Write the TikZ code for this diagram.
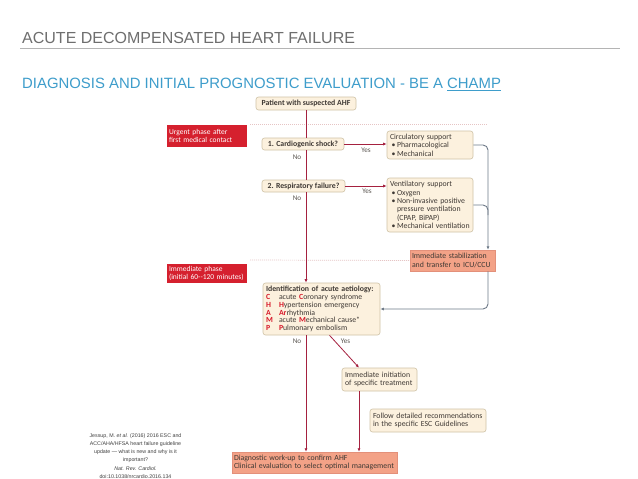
\documentclass[tikz,border=0pt]{standalone}
\usepackage{fontspec}
\setmainfont{Liberation Sans}
\newfontfamily\boxfont{Carlito}
\usetikzlibrary{arrows.meta,calc}
\definecolor{titlegray}{HTML}{6E6E6E}
\definecolor{rulegray}{HTML}{B4B4B4}
\definecolor{subblue}{HTML}{3E9DCB}
\definecolor{boxfill}{HTML}{FCF1DE}
\definecolor{boxline}{HTML}{CFC2A6}
\definecolor{boxtext}{HTML}{3F3934}
\definecolor{linered}{HTML}{A5213F}
\definecolor{phasered}{HTML}{D5202E}
\definecolor{salmonfill}{HTML}{F3A287}
\definecolor{salmonline}{HTML}{E3907A}
\definecolor{conngray}{HTML}{6E7A88}
\definecolor{dotpink}{HTML}{E6C4C4}
\definecolor{champred}{HTML}{D7192A}
\newcommand\champ[1]{\textcolor{champred}{\bfseries #1}}
\newcommand\bul{\hspace*{1.5pt}\makebox[5.5pt][l]{\textbullet}}
\newcommand\cont{\hspace*{7pt}}
\newcommand\cl[1]{\makebox[13pt][l]{\champ{#1}}}
\hyphenpenalty=10000
\exhyphenpenalty=10000
\begin{document}
\begin{tikzpicture}[x=1pt,y=-1pt,
  bfont/.style={font=\boxfont\fontsize{7.8}{8.4}\selectfont},
  box/.style={bfont, draw=boxline, fill=boxfill, rounded corners=2.5pt, line width=0.6pt,
    inner xsep=3pt, inner ysep=0pt, text=boxtext, align=left},
  qbox/.style={box, align=center, font=\boxfont\bfseries\fontsize{7.8}{8.4}\selectfont},
  phase/.style={fill=phasered, text=white, inner xsep=2pt, inner ysep=0pt, align=left,
    font=\boxfont\fontsize{7.5}{8}\selectfont},
  salmon/.style={bfont, fill=salmonfill, draw=salmonline, line width=0.5pt, inner xsep=2pt,
    inner ysep=0pt, text=boxtext, align=left},
  redline/.style={draw=linered, line width=0.8pt},
  redarrow/.style={redline, -{Latex[length=3.5pt,width=3pt]}},
  grayline/.style={draw=conngray, line width=0.9pt, rounded corners=5pt},
  grayarrow/.style={grayline, -{Latex[length=3.5pt,width=3pt]}},
  lbl/.style={font=\boxfont\fontsize{7.2}{8}\selectfont, text=boxtext!85, inner sep=0pt},
  dotline/.style={draw=dotpink, line width=0.7pt, dash pattern=on 1pt off 1pt}
]
\useasboundingbox[fill=white] (0,0) rectangle (638,479);

% header
\node[anchor=base west, inner sep=0pt, text=titlegray, font=\fontsize{16}{18}\selectfont] (title) at (22,43) {ACUTE DECOMPENSATED HEART FAILURE};
\draw[rulegray, line width=1pt] (20,48) -- (620,48);
\node[anchor=base west, inner sep=0pt, text=subblue, font=\fontsize{14.9}{17}\selectfont] (subtitle) at (22,88.5) {DIAGNOSIS AND INITIAL PROGNOSTIC EVALUATION - BE A \underline{CHAMP}};

% coordinates for connector columns
\coordinate (mx) at (306,0);
\coordinate (gx) at (488,0);
\coordinate (ix) at (359,0);

% dotted phase separators
\draw[dotline] (250,124) -- (487,124);

% nodes
\node[qbox, minimum width=100pt, minimum height=13pt] (patient) at (306,103.5) {Patient with suspected AHF};
\node[phase, text width=76pt, minimum height=22pt] (urgent) at (207,136) {Urgent phase after\\first medical contact};
\node[qbox, minimum width=82pt, minimum height=12pt] (q1) at (303,144) {1. Cardiogenic shock?};
\node[box, text width=80pt, minimum height=28pt] (circ) at (430,145) {Circulatory support\\\bul Pharmacological\\\bul Mechanical};
\node[qbox, minimum width=83pt, minimum height=12pt] (q2) at (303.5,186) {2. Respiratory failure?};
\node[box, text width=80pt, minimum height=54pt] (vent) at (430,205) {Ventilatory support\\\bul Oxygen\\\bul Non-invasive positive\\\cont pressure ventilation\\\cont (CPAP, BiPAP)\\\bul Mechanical ventilation};
\node[salmon, text width=81pt, minimum height=21pt] (stab) at (452.5,260.5) {Immediate stabilization\\and transfer to ICU/CCU};
\draw[dotline] (250,260) -- (stab.west);
\node[phase, text width=76pt, minimum height=19pt] (immed) at (207,273) {Immediate phase\\(initial 60--120 minutes)};
\node[box, text width=111pt, minimum height=52pt, font=\boxfont\fontsize{7.8}{7.9}\selectfont] (ident) at (321.5,309) {\textbf{Identification of acute aetiology:}\\
\cl{C}acute \champ{C}oronary syndrome\\
\cl{H}\champ{H}ypertension emergency\\
\cl{A}\champ{Ar}rhythmia\\
\cl{M}acute \champ{M}echanical cause*\\
\cl{P}\champ{P}ulmonary embolism};
\node[box, text width=69pt, minimum height=23pt] (init) at (379.5,379.5) {Immediate initiation\\of specific treatment};
\node[box, text width=110pt, minimum height=23pt] (follow) at (428,420.5) {Follow detailed recommendations\\in the specific ESC Guidelines};
\node[salmon, text width=161pt, minimum height=21pt] (diag) at (314.5,462.5) {Diagnostic work-up to confirm AHF\\Clinical evaluation to select optimal management};

% citation
\node[align=center, inner sep=0pt, text=black!75, font=\fontsize{5.3}{8.1}\selectfont] (cite) at (135.5,456) {Jessup, M. \textit{et al.} (2016) 2016 ESC and\\ACC/AHA/HFSA heart failure guideline\\update --- what is new and why is it\\important?\\\textit{Nat. Rev. Cardiol.}\\doi:10.1038/nrcardio.2016.134};

% red connectors
\draw[redline] (mx |- patient.south) -- (mx |- q1.north);
\draw[redline] (mx |- q1.south) -- (mx |- q2.north);
\draw[redarrow] (mx |- q2.south) -- (mx |- ident.north);
\draw[redarrow] (mx |- ident.south) -- (mx |- diag.north);
\draw[redarrow] (q1.east) -- (circ.west |- q1.east);
\draw[redarrow] (q2.east) -- (vent.west |- q2.east);
\draw[redarrow] ([xshift=8pt]ident.south) -- (ix |- init.north);
\draw[redarrow] (ix |- init.south) -- (ix |- diag.north);

% gray connectors
\draw[grayarrow] (circ.east) -| (gx |- stab.north);
\draw[grayline] (vent.east) -| ($(gx |- vent.east)+(0,10)$);
\draw[grayarrow] (gx |- stab.south) |- (ident.east);

% labels
\node[lbl] (yes1) at (366,150) {Yes};
\node[lbl] (no1) at (297,157) {No};
\node[lbl] (yes2) at (367,191) {Yes};
\node[lbl] (no2) at (297,198) {No};
\node[lbl] (no3) at (297,341) {No};
\node[lbl] (yes3) at (345.5,341) {Yes};
\end{tikzpicture}
\end{document}
